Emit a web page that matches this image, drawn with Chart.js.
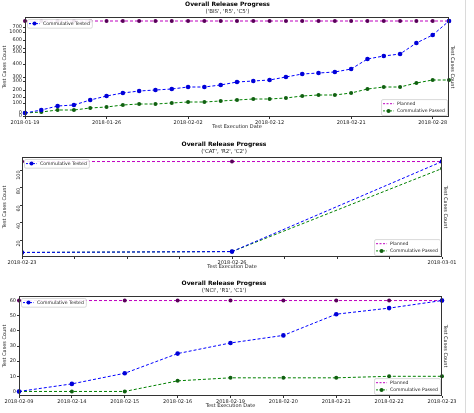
<!DOCTYPE html>
<html>
<head>
<meta charset="utf-8">
<script src="https://cdn.jsdelivr.net/npm/chart.js@4/dist/chart.umd.min.js"></script>
<style>
  body { margin: 0; background: #fff; }
  #wrap { position: relative; width: 474px; height: 413px; overflow: hidden; }
  canvas { position: absolute; left: 0; }
  #c1 { top: 0; }
  #c2 { top: 140px; }
  #c3 { top: 279px; }
  #sep { position: absolute; left: 465px; top: 0; width: 1px; height: 413px; background: #dadada; }
</style>
</head>
<body>
<div id="wrap">
  <canvas id="c1" width="460" height="135"></canvas>
  <canvas id="c2" width="460" height="135"></canvas>
  <canvas id="c3" width="460" height="135"></canvas>
  <div id="sep"></div>
</div>
<script>
// ---- release ('BIS', 'R5', 'C5') ----
const dates1 = ['2018-01-19', '2018-01-22', '2018-01-23', '2018-01-24', '2018-01-25', '2018-01-26',
  '2018-01-29', '2018-01-30', '2018-01-31', '2018-02-01', '2018-02-02', '2018-02-05', '2018-02-06',
  '2018-02-07', '2018-02-08', '2018-02-12', '2018-02-13', '2018-02-14', '2018-02-15', '2018-02-19',
  '2018-02-21', '2018-02-22', '2018-02-23', '2018-02-26', '2018-02-27', '2018-02-28', '2018-03-01'];
// y axis of this one is messed up (string categories), values are read as position on the axis
const tested1 = [4, 7, 11, 12, 17, 21, 24, 26, 27, 28, 30, 30, 32, 35, 36, 37, 40, 43, 44, 45, 48, 58, 61, 63, 74, 82, 96];
const passed1 = [4, 5, 7, 7, 9, 10, 12, 13, 13, 14, 15, 15, 16, 17, 18, 18, 19, 21, 22, 22, 24, 28, 30, 30, 34, 37, 37];
const planned1 = [96, 96, 96, 96, 96, 96, 96, 96, 96, 96, 96, 96, 96, 96, 96, 96, 96, 96, 96, 96, 96, 96, 96, 96, 96, 96, 96];
const yTickPos1 = [90, 85, 77, 69, 65, 53, 40, 36, 27, 20, 14, 4, 1];
const yTickText1 = ['700', '1000', '600', '500', '500', '400', '300', '300', '200', '200', '100', '0', '0'];

// ---- release ('CAT', 'R2', 'C2') ----
const dates2 = ['2018-02-23', '2018-02-26', '2018-03-01'];
const tested2 = [6, 7, 110];
const passed2 = [6, 7, 102];
const planned2 = [110, 110, 110];
const yTicks2 = [20, 40, 60, 80, 100];

// ---- release ('NCI', 'R1', 'C1') ----
const dates3 = ['2018-02-09', '2018-02-14', '2018-02-15', '2018-02-16', '2018-02-19', '2018-02-20',
  '2018-02-21', '2018-02-22', '2018-02-23'];
const tested3 = [0, 5, 12, 25, 32, 37, 51, 55, 60];
const passed3 = [0, 0, 0, 7, 9, 9, 9, 10, 10];
const planned3 = [60, null, 60, 60, 60, 60, 60, 60, 60];
const yTicks3 = [0, 10, 20, 30, 40, 50, 60];

Chart.defaults.font.family = '"DejaVu Sans", sans-serif';
Chart.defaults.font.size = 5;
Chart.defaults.color = '#222';

const frame = {
  id: 'frame',
  afterDraw(chart) {
    const a = chart.chartArea, ctx = chart.ctx;
    ctx.save();
    ctx.strokeStyle = '#333';
    ctx.lineWidth = 1;
    ctx.strokeRect(Math.round(a.left) + 0.5, Math.round(a.top) + 0.5,
      Math.round(a.right - a.left) - 1, Math.round(a.bottom - a.top) - 1);
    ctx.restore();
  }
};

// two legend boxes like the matplotlib ones: tested top-left, the rest bottom-right
const legendBoxes = {
  id: 'legendBoxes',
  afterDraw(chart) {
    const ctx = chart.ctx, a = chart.chartArea;
    const ds = chart.data.datasets;
    ctx.save();
    ctx.font = '4.6px "DejaVu Sans"';
    const rowH = 7.2;
    const box = (items, x, y) => {
      const tw = Math.max(...items.map(i => ctx.measureText(ds[i].label).width));
      const w = 2 + 11 + 3 + tw + 2, h = items.length * rowH + 1.5;
      if (x < 0) x = a.right - 2 - w;
      if (y < 0) y = a.bottom - 2 - h;
      ctx.fillStyle = 'rgba(255,255,255,0.9)';
      ctx.strokeStyle = '#cfcfcf';
      ctx.lineWidth = 0.8;
      ctx.beginPath();
      ctx.roundRect(x + 0.5, y + 0.5, w, h, 1.5);
      ctx.fill();
      ctx.stroke();
      items.forEach((i, k) => {
        const cy = y + 1 + rowH * k + rowH / 2;
        ctx.strokeStyle = ds[i].borderColor;
        ctx.lineWidth = 1;
        ctx.setLineDash([2, 1.5]);
        ctx.beginPath();
        ctx.moveTo(x + 2, cy);
        ctx.lineTo(x + 13, cy);
        ctx.stroke();
        ctx.setLineDash([]);
        if (ds[i].legendMarker) {
          ctx.fillStyle = ds[i].pointBackgroundColor;
          ctx.beginPath();
          ctx.arc(x + 7.5, cy, 2, 0, Math.PI * 2);
          ctx.fill();
        }
        ctx.fillStyle = '#222';
        ctx.textBaseline = 'middle';
        ctx.fillText(ds[i].label, x + 16, cy + 0.3);
      });
    };
    box([0], a.left + 2, a.top + 2);
    box([2, 1], -1, -1);
    ctx.restore();
  }
};

function series(tested, passed, planned, xs) {
  const pts = arr => xs ? arr.map((v, i) => ({ x: xs[i], y: v })) : arr;
  return [
    {
      label: 'Commulative Tested', data: pts(tested), legendMarker: true,
      borderColor: '#0000ff', pointBackgroundColor: '#0000d8', pointBorderWidth: 0,
      borderWidth: 1, borderDash: [3, 2], pointRadius: 2.3
    },
    {
      label: 'Commulative Passed', data: pts(passed), legendMarker: true,
      borderColor: '#008000', pointBackgroundColor: '#106010', pointBorderWidth: 0,
      borderWidth: 1, borderDash: [3, 2], pointRadius: 2
    },
    {
      label: 'Planned', data: pts(planned), legendMarker: false, spanGaps: true,
      borderColor: '#bf00bf', pointBackgroundColor: '#580058', pointBorderWidth: 0,
      borderWidth: 1, borderDash: [3, 2], pointRadius: 2
    }
  ];
}

function makeOpts(sub, cfg) {
  return {
    responsive: false,
    animation: false,
    layout: { padding: { top: 0, right: cfg.padRight, bottom: 0, left: 0 } },
    plugins: {
      legend: { display: false },
      tooltip: { enabled: false },
      title: {
        display: true, text: 'Overall Release Progress', color: '#000',
        font: { size: 6, weight: 'bold', lineHeight: 1.2 }, padding: { top: 1, bottom: 0.5 }
      },
      subtitle: {
        display: true, text: sub, color: '#222',
        font: { size: 5.5, lineHeight: 1.2 }, padding: { top: 0, bottom: 1.7 }
      }
    },
    scales: {
      x: Object.assign({
        border: { display: false },
        grid: { drawOnChartArea: false, tickLength: 2, color: '#333' },
        title: { display: true, text: 'Test Execution Date', padding: { top: 0, bottom: 5 } },
        afterFit: s => { s.height = 18; }
      }, cfg.x),
      y: Object.assign({
        border: { display: false },
        grid: { drawOnChartArea: false, tickLength: 2, color: '#333' },
        title: { display: true, text: 'Test Cases Count', padding: { top: 2, bottom: 0 } },
        afterFit: s => { s.width = cfg.left; }
      }, cfg.y),
      y2: {
        position: 'right',
        border: { display: false },
        grid: { display: false },
        ticks: { display: false },
        title: { display: true, text: 'Test Cases Count', padding: 0 },
        afterFit: s => { s.width = 6; }
      }
    }
  };
}

// chart 1
new Chart(document.getElementById('c1'), {
  type: 'line',
  data: { labels: dates1, datasets: series(tested1, passed1, planned1) },
  options: makeOpts("('BIS', 'R5', 'C5')", {
    left: 25, padRight: 5,
    x: {
      type: 'category', offset: false,
      afterBuildTicks: s => { s.ticks = s.ticks.filter(t => t.value % 5 === 0); },
      ticks: {
        autoSkip: false, maxRotation: 0, padding: 0.5,
        callback: function (v) { return this.getLabelForValue(v); }
      }
    },
    y: {
      min: 0, max: 100,
      afterBuildTicks: s => { s.ticks = yTickPos1.map(v => ({ value: v })); },
      ticks: { autoSkip: false, padding: 1, callback: v => yTickText1[yTickPos1.indexOf(v)] }
    }
  }),
  plugins: [frame, legendBoxes]
});

// chart 2 (dates are 3 days apart, minor ticks every quarter)
new Chart(document.getElementById('c2'), {
  type: 'line',
  data: { datasets: series(tested2, passed2, planned2, dates2.map((d, i) => i * 4)) },
  options: makeOpts("('CAT', 'R2', 'C2')", {
    left: 22, padRight: 12,
    x: {
      type: 'linear', min: 0, max: 8,
      afterBuildTicks: s => { s.ticks = [0, 1, 2, 3, 4, 5, 6, 7, 8].map(v => ({ value: v })); },
      ticks: {
        autoSkip: false, maxRotation: 0, padding: 0.5,
        callback: v => (v % 4 === 0 ? dates2[v / 4] : '')
      }
    },
    y: {
      min: 0.8, max: 115.2,
      afterBuildTicks: s => { s.ticks = yTicks2.map(v => ({ value: v })); },
      ticks: { autoSkip: false, padding: 1, minRotation: 90, maxRotation: 90 }
    }
  }),
  plugins: [frame, legendBoxes]
});

// chart 3
new Chart(document.getElementById('c3'), {
  type: 'line',
  data: { labels: dates3, datasets: series(tested3, passed3, planned3) },
  options: makeOpts("('NCI', 'R1', 'C1')", {
    left: 19, padRight: 12,
    x: {
      type: 'category', offset: false,
      ticks: { autoSkip: false, maxRotation: 0, padding: 0.5 }
    },
    y: {
      min: -3, max: 63,
      afterBuildTicks: s => { s.ticks = yTicks3.map(v => ({ value: v })); },
      ticks: { autoSkip: false, padding: 1 }
    }
  }),
  plugins: [frame, legendBoxes]
});
</script>
</body>
</html>
